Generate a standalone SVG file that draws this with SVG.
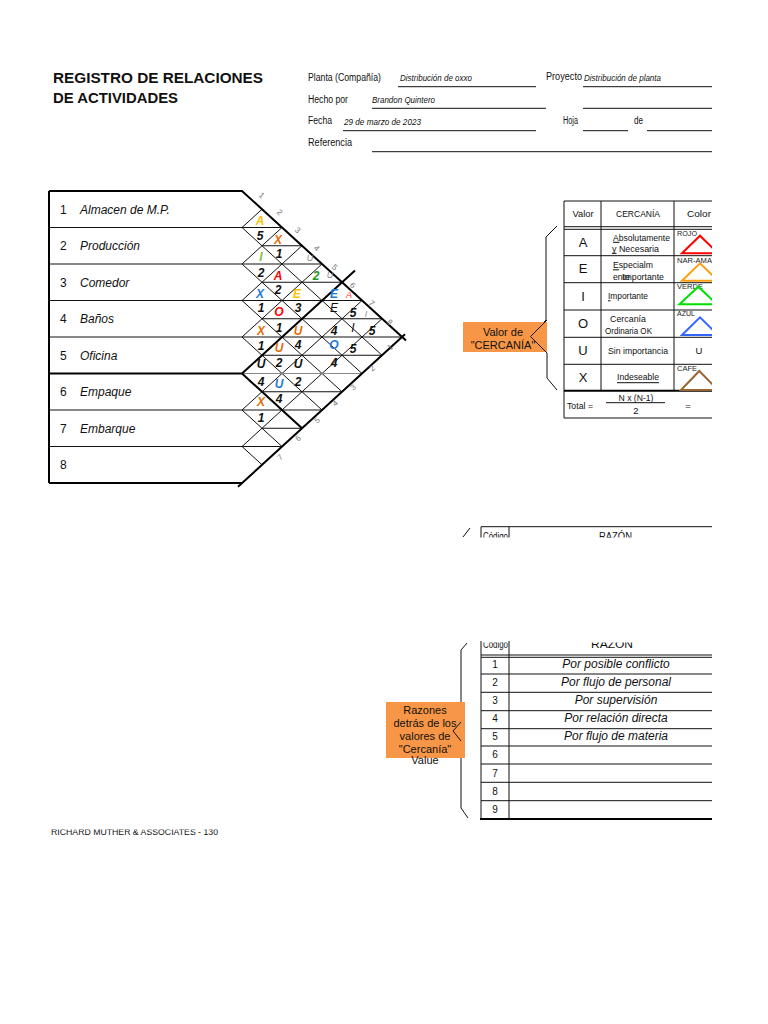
<svg xmlns="http://www.w3.org/2000/svg" width="768" height="1024" viewBox="0 0 768 1024">
<style>
.t{font-family:"Liberation Sans",Arial,sans-serif;fill:#111}
.it{font-style:italic}
.b{font-weight:bold}
.ln{stroke:#111;stroke-width:1;fill:none}
.bd{stroke:#000;stroke-width:2;fill:none}
.gr{stroke:#888;stroke-width:1;fill:none}
.mx{font-family:"Liberation Sans",Arial,sans-serif;font-style:italic;font-weight:bold;font-size:12px;text-anchor:middle;fill:#111}
.sm{font-family:"Liberation Sans",Arial,sans-serif;font-size:8px;fill:#777;text-anchor:middle}
.cl{font-family:"Liberation Sans",Arial,sans-serif;font-size:7.5px;fill:#222}
.c{text-anchor:middle}
.box{fill:#f79646}
.tri{fill:none;stroke-width:2}
</style>
<defs>
<clipPath id="clipR"><rect x="0" y="0" width="712" height="1024"/></clipPath>
<clipPath id="clipMid"><rect x="440" y="500" width="272" height="37.5"/></clipPath>
<clipPath id="clipBot"><rect x="440" y="642.5" width="272" height="200"/></clipPath>
<clipPath id="clipFoot"><rect x="0" y="829.5" width="400" height="20"/></clipPath>
</defs>
<rect width="768" height="1024" fill="#fff"/>

<g id="header">
<text class="t b" x="53" y="83" font-size="15" textLength="210" lengthAdjust="spacingAndGlyphs">REGISTRO DE RELACIONES</text>
<text class="t b" x="53" y="103" font-size="15" textLength="125" lengthAdjust="spacingAndGlyphs">DE ACTIVIDADES</text>
<g font-size="10">
<text class="t" x="308" y="81" textLength="73" lengthAdjust="spacingAndGlyphs">Planta (Compañía)</text>
<text class="t" x="546" y="80" textLength="36" lengthAdjust="spacingAndGlyphs">Proyecto</text>
<text class="t" x="308" y="102.5" textLength="40" lengthAdjust="spacingAndGlyphs">Hecho por</text>
<text class="t" x="308" y="124" textLength="24" lengthAdjust="spacingAndGlyphs">Fecha</text>
<text class="t" x="563" y="124" textLength="15" lengthAdjust="spacingAndGlyphs">Hoja</text>
<text class="t" x="634" y="124" textLength="9" lengthAdjust="spacingAndGlyphs">de</text>
<text class="t" x="308" y="145.5" textLength="44" lengthAdjust="spacingAndGlyphs">Referencia</text>
</g>
<g font-size="8.5">
<text class="t it" x="400" y="81" textLength="72" lengthAdjust="spacingAndGlyphs">Distribución de oxxo</text>
<text class="t it" x="584" y="81" textLength="77" lengthAdjust="spacingAndGlyphs">Distribución de planta</text>
<text class="t it" x="372" y="103" textLength="63" lengthAdjust="spacingAndGlyphs">Brandon Quintero</text>
<text class="t it" x="344" y="124.5" textLength="77" lengthAdjust="spacingAndGlyphs">29 de marzo de 2023</text>
</g>
<path class="ln" d="M398,86.7H536M583,86.7H712M372,108.3H546M583,108.3H712M343,130.7H536M583,130.7H628M647,130.7H712M372,151.7H712"/>
</g>

<g id="matrix-grid">
<path class="ln" d="M242,227.5L382,355.25M242,264L362,373.5M242,300.5L342,391.75M242,337L322,410M242,410L282,446.5M242,446.5L262,464.75
M242,227.5L262,209.25M242,264L282,227.5M242,300.5L302,245.75M242,337L322,264M242,410L362,300.5M242,446.5L382,318.75
M49,227.5H282M49,264H322M49,300.5H362M49,337H402M49,410H322M49,446.5H282
M262,245.75H302M262,282.25H342M262,318.75H382M262,355.25H382M262,391.75H342M262,428.25H302"/>
<path class="gr" d="M242,373.5H362"/>
<path class="bd" d="M49,373.5H242M242,373.5L302,428.25M242,373.5L355,270.5"/>
<path class="bd" d="M49,191H242L406,340.6M405,334.3L238,486.7M49,483H242M49,191V483"/>
</g>

<g id="rows" font-size="12">
<g id="row-1"><text class="t" x="60" y="213.5">1</text><text class="t it" x="80" y="213.5">Almacen de M.P.</text></g>
<g id="row-2"><text class="t" x="60" y="250">2</text><text class="t it" x="80" y="250">Producción</text></g>
<g id="row-3"><text class="t" x="60" y="286.5">3</text><text class="t it" x="80" y="286.5">Comedor</text></g>
<g id="row-4"><text class="t" x="60" y="323">4</text><text class="t it" x="80" y="323">Baños</text></g>
<g id="row-5"><text class="t" x="60" y="359.5">5</text><text class="t it" x="80" y="359.5">Oficina</text></g>
<g id="row-6"><text class="t" x="60" y="396">6</text><text class="t it" x="80" y="396">Empaque</text></g>
<g id="row-7"><text class="t" x="60" y="432.5">7</text><text class="t it" x="80" y="432.5">Embarque</text></g>
<g id="row-8"><text class="t" x="60" y="469">8</text></g>
</g>

<g id="edge-numbers">
<text class="sm" x="262" y="198" transform="rotate(42 262 195)">1</text>
<text class="sm" x="280" y="215" transform="rotate(42 280 212)">2</text>
<text class="sm" x="298" y="233" transform="rotate(42 298 230)">3</text>
<text class="sm" x="317" y="251" transform="rotate(42 317 248)">4</text>
<text class="sm" x="335" y="270" transform="rotate(42 335 267)">5</text>
<text class="sm" x="353" y="288" transform="rotate(42 353 285)">6</text>
<text class="sm" x="372" y="306" transform="rotate(42 372 303)">7</text>
<text class="sm" x="390" y="325" transform="rotate(42 390 322)">8</text>
<text class="sm" x="390" y="350" transform="rotate(-42 390 347)">1</text>
<text class="sm" x="372" y="371" transform="rotate(-42 372 368)">2</text>
<text class="sm" x="353" y="390" transform="rotate(-42 353 387)">3</text>
<text class="sm" x="335" y="406" transform="rotate(-42 335 403)">4</text>
<text class="sm" x="317" y="423" transform="rotate(-42 317 420)">5</text>
<text class="sm" x="298" y="441" transform="rotate(-42 298 438)">6</text>
<text class="sm" x="280" y="460" transform="rotate(-42 280 457)">7</text>
</g>

<g id="matrix-values">
<text class="mx" x="260" y="224.5" style="fill:#ffc000">A</text>
<text class="mx" x="260" y="239.5">5</text>
<text class="mx" x="278" y="244" style="fill:#e36c09">X</text>
<text class="mx" x="261" y="260.5" style="fill:#7dc242">I</text>
<text class="mx" x="279" y="257.5">1</text>
<text class="mx" x="310" y="260.5" style="fill:#888;font-size:9px;font-weight:normal">U</text>
<text class="mx" x="261" y="276.5">2</text>
<text class="mx" x="278" y="279.5" style="fill:#ff0000">A</text>
<text class="mx" x="316" y="279.5" style="fill:#1a9a1a">2</text>
<text class="mx" x="330" y="277.5" style="fill:#888;font-size:9px;font-weight:normal">U</text>
<text class="mx" x="260" y="297.5" style="fill:#1f7bd6">X</text>
<text class="mx" x="278" y="293.5">2</text>
<text class="mx" x="297" y="297.5" style="fill:#ffc000">E</text>
<text class="mx" x="334" y="297.5" style="fill:#1f7bd6">E</text>
<text class="mx" x="349" y="297.5" style="fill:#ff3030;font-size:9px;font-weight:normal">A</text>
<text class="mx" x="261" y="311.5">1</text>
<text class="mx" x="279" y="315.5" style="fill:#ff0000">O</text>
<text class="mx" x="298" y="311.5">3</text>
<text class="mx" x="334" y="311.5" style="font-weight:normal">E</text>
<text class="mx" x="353" y="316.5">5</text>
<text class="mx" x="366" y="316.5" style="fill:#888;font-size:9px;font-weight:normal">I</text>
<text class="mx" x="261" y="334.5" style="fill:#e36c09">X</text>
<text class="mx" x="279" y="331.5">1</text>
<text class="mx" x="298" y="334.5" style="fill:#e36c09">U</text>
<text class="mx" x="334" y="334.5">4</text>
<text class="mx" x="353" y="331.5" style="font-weight:normal">I</text>
<text class="mx" x="372" y="334.5">5</text>
<text class="mx" x="261" y="349.5">1</text>
<text class="mx" x="279" y="351.5" style="fill:#e36c09">U</text>
<text class="mx" x="298" y="348.5">4</text>
<text class="mx" x="334" y="348.5" style="fill:#1f7bd6">O</text>
<text class="mx" x="353" y="352.5">5</text>
<text class="mx" x="261" y="367.5">U</text>
<text class="mx" x="279" y="366.5">2</text>
<text class="mx" x="298" y="367.5">U</text>
<text class="mx" x="334" y="366.5">4</text>
<text class="mx" x="261" y="385.5">4</text>
<text class="mx" x="279" y="387.5" style="fill:#1f7bd6">U</text>
<text class="mx" x="298" y="385.5">2</text>
<text class="mx" x="261" y="405.5" style="fill:#e36c09">X</text>
<text class="mx" x="279" y="402.5">4</text>
<text class="mx" x="261" y="421.5">1</text>
</g>

<g id="cercania-table" clip-path="url(#clipR)">
<path class="ln" d="M564,201H716M564,201V418M564,418H716M564,226.7H716M564,229.3H716M564,255.7H716M564,282.7H716M564,310H716M564,337.3H716M564,364.3H716M601,201V391M674,201V391"/>
<path class="bd" d="M564,390.8H716" stroke-width="1.6"/>
<g font-size="9.5">
<text class="t c" x="583" y="217" textLength="21" lengthAdjust="spacingAndGlyphs">Valor</text>
<text class="t c" x="638" y="217" textLength="44" lengthAdjust="spacingAndGlyphs">CERCANÍA</text>
<text class="t" x="687" y="217" textLength="24" lengthAdjust="spacingAndGlyphs">Color</text>
</g>
<g font-size="13">
<text class="t c" x="583" y="246.5">A</text>
<text class="t c" x="583" y="273">E</text>
<text class="t c" x="583" y="300.5">I</text>
<text class="t c" x="583" y="327.5">O</text>
<text class="t c" x="583" y="354.5">U</text>
<text class="t c" x="583" y="382">X</text>
</g>
<g font-size="9.5">
<text class="t" x="613" y="240.5" textLength="57" lengthAdjust="spacingAndGlyphs">Absolutamente</text>
<text class="t" x="612" y="251.5" textLength="47" lengthAdjust="spacingAndGlyphs">y Necesaria</text>
<text class="t" x="613" y="268" textLength="40" lengthAdjust="spacingAndGlyphs">Especialm</text>
<text class="t" x="613" y="279.5" textLength="17" lengthAdjust="spacingAndGlyphs">ente</text>
<text class="t" x="622" y="279.5" textLength="42" lengthAdjust="spacingAndGlyphs">Importante</text>
<text class="t" x="608" y="299" textLength="40" lengthAdjust="spacingAndGlyphs">Importante</text>
<text class="t c" x="628" y="322" textLength="36" lengthAdjust="spacingAndGlyphs">Cercanía</text>
<text class="t c" x="628.5" y="333.5" textLength="47" lengthAdjust="spacingAndGlyphs">Ordinaria OK</text>
<text class="t c" x="638" y="353.5" textLength="60" lengthAdjust="spacingAndGlyphs">Sin importancia</text>
<text class="t c" x="638" y="380" textLength="42" lengthAdjust="spacingAndGlyphs">Indeseable</text>
<text class="t c" x="699" y="354">U</text>
<text class="t" x="567" y="408.5" textLength="26" lengthAdjust="spacingAndGlyphs">Total =</text>
<text class="t c" x="636" y="401" textLength="35" lengthAdjust="spacingAndGlyphs">N x (N-1)</text>
<text class="t c" x="636" y="413.5">2</text>
<text class="t c" x="688" y="408.5">=</text>
</g>
<path class="ln" d="M613,242.3H619.5M612,253.3H616.5M613,269.8H619M608,300.8H610.5M617,382.7H659M606,402.7H665"/>
<text class="cl" x="677" y="236" textLength="20" lengthAdjust="spacingAndGlyphs">ROJO</text>
<text class="cl" x="677" y="262.5" textLength="35" lengthAdjust="spacingAndGlyphs">NAR-AMA</text>
<text class="cl" x="677" y="289" textLength="26" lengthAdjust="spacingAndGlyphs">VERDE</text>
<text class="cl" x="677" y="316" textLength="18" lengthAdjust="spacingAndGlyphs">AZUL</text>
<text class="cl" x="677" y="370.5" textLength="20" lengthAdjust="spacingAndGlyphs">CAFE</text>
<path class="tri" stroke="#ff0000" d="M682,253.3L700,235.7L718,253.3Z"/>
<path class="tri" stroke="#ffa010" d="M682,280.7L700,263.3L718,280.7Z"/>
<path class="tri" stroke="#00e000" d="M679.5,304.3L698.3,286.7L717,304.3Z"/>
<path class="tri" stroke="#3366ff" d="M682,335L700,317.3L718,335Z"/>
<path class="tri" stroke="#996633" d="M681,390L699.3,371L718,390Z"/>
</g>

<g id="connectors">
<path class="ln" d="M557,226L546,237V320L530.5,336.5L547,353V378L557,390"/>
<path class="ln" d="M467,643L461,650V722L453,731L461,741V808L468,818"/>
<path class="ln" d="M463,537L470,528"/>
</g>

<g id="label-cercania">
<rect class="box" x="463" y="322" width="84" height="30"/>
<path class="ln" d="M547,320L530.5,336.5L547,353"/>
<text class="t c" x="503" y="336" font-size="11">Valor de</text>
<text class="t c" x="503" y="348.5" font-size="11">"CERCANÍA"</text>
</g>

<g id="razon-header-top" clip-path="url(#clipMid)">
<path class="ln" d="M481,526.7H716M481,526.7V540M509,526.7V540"/>
<text class="t" x="483" y="540" font-size="10" textLength="25" lengthAdjust="spacingAndGlyphs">Código</text>
<text class="t c" x="615.5" y="540" font-size="10" textLength="33" lengthAdjust="spacingAndGlyphs">RAZÓN</text>
</g>

<g id="razon-table">
<g clip-path="url(#clipBot)">
<text class="t" x="483" y="647.5" font-size="10" textLength="25" lengthAdjust="spacingAndGlyphs">Código</text>
<text class="t c" x="612" y="647.5" font-size="10" textLength="42" lengthAdjust="spacingAndGlyphs">RAZÓN</text>
</g>
<g clip-path="url(#clipR)">
<path class="ln" d="M481,641V819M509,641V819M481,655H716M481,657.3H716M481,674H716M481,692.3H716M481,710.7H716M481,728.7H716M481,746H716M481,764H716M481,782.3H716M481,800.7H716"/>
<path class="bd" d="M480,819H716" stroke-width="1.6"/>
</g>
<g font-size="10">
<text class="t c" x="495" y="668">1</text>
<text class="t c" x="495" y="686">2</text>
<text class="t c" x="495" y="704">3</text>
<text class="t c" x="495" y="722">4</text>
<text class="t c" x="495" y="740">5</text>
<text class="t c" x="495" y="758">6</text>
<text class="t c" x="495" y="777">7</text>
<text class="t c" x="495" y="795">8</text>
<text class="t c" x="495" y="813">9</text>
</g>
<g font-size="12">
<text class="t it c" x="616" y="667.5">Por posible conflicto</text>
<text class="t it c" x="616" y="685.5">Por flujo de personal</text>
<text class="t it c" x="616" y="703.5">Por supervisión</text>
<text class="t it c" x="616" y="722">Por relación directa</text>
<text class="t it c" x="616" y="740">Por flujo de materia</text>
</g>
</g>

<g id="label-razones">
<rect class="box" x="386" y="702" width="79" height="56"/>
<path class="ln" d="M461,722L453,731L461,741"/>
<g font-size="11">
<text class="t c" x="425" y="714">Razones</text>
<text class="t c" x="425" y="727">detrás de los</text>
<text class="t c" x="425" y="740">valores de</text>
<text class="t c" x="425" y="752.5">"Cercanía"</text>
<text class="t c" x="425" y="764">Value</text>
</g>
</g>

<g id="footer" clip-path="url(#clipFoot)">
<text class="t" x="51" y="835" font-size="8.5" textLength="167" lengthAdjust="spacingAndGlyphs">RICHARD MUTHER &amp; ASSOCIATES - 130</text>
</g>
</svg>
